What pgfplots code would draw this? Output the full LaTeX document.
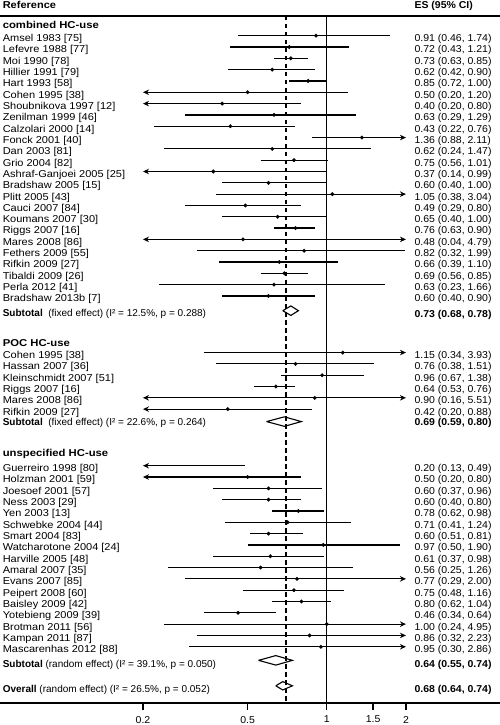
\documentclass[border=0pt]{standalone}
\usepackage{fontspec}
\setmainfont{Liberation Sans}
\newfontfamily\lfont{Liberation Sans}[FakeStretch=1.1]
\newfontfamily\hfont{Liberation Sans}[FakeStretch=1.13]
\newfontfamily\rfont{Liberation Sans}[FakeStretch=1.05]
\usepackage{pgfplots}
\pgfplotsset{compat=1.18}
\usetikzlibrary{arrows.meta,calc}

\tikzset{
  ci/.style={line width=1.2pt, black},
  pt/.style={only marks, mark=*, mark size=1.8pt, black, mark options={line width=0.3pt}},
  lab/.style={anchor=base west, inner sep=0pt, yshift=-5.9pt},
  lab0/.style={anchor=base west, inner sep=0pt},
  dia/.style={line width=1.1pt, black, line join=miter},
  >={Stealth[length=6pt,width=5.5pt]},
}

% row, label, es, lo, hi
\newcommand\study[5]{%
  \pgfmathsetmacro\lo{max(#4,0.2)}%
  \pgfmathsetmacro\hi{min(#5,2)}%
  \ifdim #4pt<0.2005pt \def\la{<}\else\def\la{}\fi
  \ifdim #5pt>1.9995pt \def\ra{>}\else\def\ra{}\fi
  \edef\tmp{\noexpand\addplot[ci,\la-\ra] coordinates {(\lo,#1) (\hi,#1)};}\tmp
  \ifdim #3pt>0.2005pt \addplot[pt] coordinates {(#3,#1)};\fi
  \node[lab] at (axis cs:0.0585,#1) {\lfont #2};
  \node[lab] at (axis cs:2.152,#1) {\rfont #3 (#4, #5)};
}

\begin{document}
\begin{tikzpicture}[font=\fontsize{10}{12}\selectfont]
\begin{axis}[
  name=ax, at={(0,0)}, anchor=south west,
  scale only axis, width=500pt, height=687pt,
  xmode=log, xmin=0.05718, xmax=4.557,
  ymin=-0.742, ymax=59.97, y dir=reverse,
  clip=false,
  axis x line=box, axis y line=none,
  axis line style={line width=1.2pt, black},
  xtick={0.2,0.5,1,1.5,2},
  xticklabels={0.2,0.5,1,1.5,2},
  minor xtick={}, ytick=\empty,
  xtick pos=left, xticklabel pos=left,
  tick align=outside, major tick length=7pt,
  every tick/.style={line width=1.2pt, black},
  xticklabel style={font=\rfont\fontsize{10}{12}\selectfont, yshift=-2.5pt},
]
% reference lines
\addplot[line width=1.2pt, black] coordinates {(1,-0.742) (1,59.97)};
\addplot[line width=1.2pt, black, dash pattern=on 4.5pt off 3.5pt] coordinates {(0.70,-0.742) (0.70,59.97)};

% headers
\node[lab0] at (axis cs:0.0585,-1.42) {\lfont\bfseries Reference};
\node[lab0] at (axis cs:2.152,-1.42) {\rfont\bfseries ES (95\% CI)};

\node[lab0] at (axis cs:0.0585,0.34) {\hfont\bfseries combined HC-use};
\study{1}{Amsel 1983 [75]}{0.91}{0.46}{1.74}
\study{2}{Lefevre 1988 [77]}{0.72}{0.43}{1.21}
\study{3}{Moi 1990 [78]}{0.73}{0.63}{0.85}
\study{4}{Hillier 1991 [79]}{0.62}{0.42}{0.90}
\study{5}{Hart 1993 [58]}{0.85}{0.72}{1.00}
\study{6}{Cohen 1995 [38]}{0.50}{0.20}{1.20}
\study{7}{Shoubnikova 1997 [12]}{0.40}{0.20}{0.80}
\study{8}{Zenilman 1999 [46]}{0.63}{0.29}{1.29}
\study{9}{Calzolari 2000 [14]}{0.43}{0.22}{0.76}
\study{10}{Fonck 2001 [40]}{1.36}{0.88}{2.11}
\study{11}{Dan 2003 [81]}{0.62}{0.24}{1.47}
\study{12}{Grio 2004 [82]}{0.75}{0.56}{1.01}
\study{13}{Ashraf-Ganjoei 2005 [25]}{0.37}{0.14}{0.99}
\study{14}{Bradshaw 2005 [15]}{0.60}{0.40}{1.00}
\study{15}{Plitt 2005 [43]}{1.05}{0.38}{3.04}
\study{16}{Cauci 2007 [84]}{0.49}{0.29}{0.80}
\study{17}{Koumans 2007 [30]}{0.65}{0.40}{1.00}
\study{18}{Riggs 2007 [16]}{0.76}{0.63}{0.90}
\study{19}{Mares 2008 [86]}{0.48}{0.04}{4.79}
\study{20}{Fethers 2009 [55]}{0.82}{0.32}{1.99}
\study{21}{Rifkin 2009 [27]}{0.66}{0.39}{1.10}
\study{22}{Tibaldi 2009 [26]}{0.69}{0.56}{0.85}
\study{23}{Perla 2012 [41]}{0.63}{0.23}{1.66}
\study{24}{Bradshaw 2013b [7]}{0.60}{0.40}{0.90}
\addplot[dia] coordinates {(0.68,25.3) (0.73,24.88) (0.78,25.3) (0.73,25.72) (0.68,25.3)};
\node[lab0] at (axis cs:0.0585,25.85) {\textbf{Subtotal}\ \ (fixed effect) (I² = 12.5\%, p = 0.288)};
\node[lab0] at (axis cs:2.152,25.88) {\rfont\bfseries 0.73 (0.68, 0.78)};

\node[lab0] at (axis cs:0.0585,28.45) {\hfont\bfseries POC HC-use};
\study{29}{Cohen 1995 [38]}{1.15}{0.34}{3.93}
\study{30}{Hassan 2007 [36]}{0.76}{0.38}{1.51}
\study{31}{Kleinschmidt 2007 [51]}{0.96}{0.67}{1.38}
\study{32}{Riggs 2007 [16]}{0.64}{0.53}{0.76}
\study{33}{Mares 2008 [86]}{0.90}{0.16}{5.51}
\study{34}{Rifkin 2009 [27]}{0.42}{0.20}{0.88}
\addplot[dia] coordinates {(0.59,35.1) (0.69,34.68) (0.80,35.1) (0.69,35.52) (0.59,35.1)};
\node[lab0] at (axis cs:0.0585,35.45) {\textbf{Subtotal}\ \ (fixed effect) (I² = 22.6\%, p = 0.264)};
\node[lab0] at (axis cs:2.152,35.45) {\rfont\bfseries 0.69 (0.59, 0.80)};

\node[lab0] at (axis cs:0.0585,38.22) {\hfont\bfseries unspecified HC-use};
\study{39}{Guerreiro 1998 [80]}{0.20}{0.13}{0.49}
\study{40}{Holzman 2001 [59]}{0.50}{0.20}{0.80}
\study{41}{Joesoef 2001 [57]}{0.60}{0.37}{0.96}
\study{42}{Ness 2003 [29]}{0.60}{0.40}{0.80}
\study{43}{Yen 2003 [13]}{0.78}{0.62}{0.98}
\study{44}{Schwebke 2004 [44]}{0.71}{0.41}{1.24}
\study{45}{Smart 2004 [83]}{0.60}{0.51}{0.81}
\study{46}{Watcharotone 2004 [24]}{0.97}{0.50}{1.90}
\study{47}{Harville 2005 [48]}{0.61}{0.37}{0.98}
\study{48}{Amaral 2007 [35]}{0.56}{0.25}{1.26}
\study{49}{Evans 2007 [85]}{0.77}{0.29}{2.00}
\study{50}{Peipert 2008 [60]}{0.75}{0.48}{1.16}
\study{51}{Baisley 2009 [42]}{0.80}{0.62}{1.04}
\study{52}{Yotebieng 2009 [39]}{0.46}{0.34}{0.64}
\study{53}{Brotman 2011 [56]}{1.00}{0.24}{4.95}
\study{54}{Kampan 2011 [87]}{0.86}{0.32}{2.23}
\study{55}{Mascarenhas 2012 [88]}{0.95}{0.30}{2.86}
\addplot[dia] coordinates {(0.55,56.2) (0.64,55.78) (0.74,56.2) (0.64,56.62) (0.55,56.2)};
\node[lab0] at (axis cs:0.0585,56.82) {\textbf{Subtotal} (random effect) (I² = 39.1\%, p = 0.050)};
\node[lab0] at (axis cs:2.152,56.82) {\rfont\bfseries 0.64 (0.55, 0.74)};

\addplot[dia] coordinates {(0.64,58.45) (0.68,58.08) (0.74,58.45) (0.68,58.82) (0.64,58.45)};
\node[lab0] at (axis cs:0.0585,59.0) {\textbf{Overall} (random effect) (I² = 26.5\%, p = 0.052)};
\node[lab0] at (axis cs:2.152,59.0) {\rfont\bfseries 0.68 (0.64, 0.74)};
\end{axis}
\pgfresetboundingbox
\path[use as bounding box] ($(ax.south west)+(0,-22pt)$) rectangle ($(ax.north east)+(0,16pt)$);
\end{tikzpicture}
\end{document}
